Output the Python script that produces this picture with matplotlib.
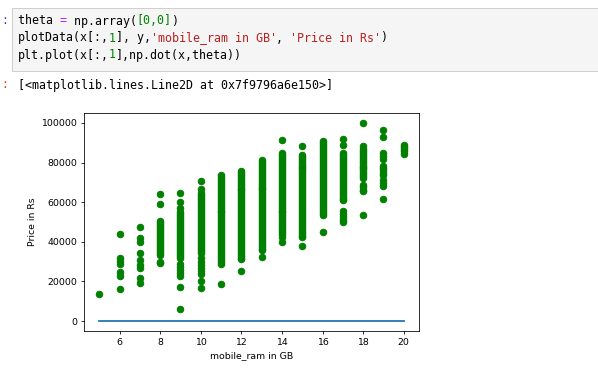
import numpy as np
import matplotlib
matplotlib.use("Agg")
import matplotlib.pyplot as plt
from matplotlib.patches import Rectangle

# ---------------- data (price in Rs for each RAM size in GB) ----------------
ram_5 = [13500]
ram_6 = [43900, 32000, 30300, 28700, 24900, 22900, 16000]
ram_7 = [47400, 42100, 40100, 34600, 30900, 28300, 27000, 21600, 19100]
ram_8 = [64100, 59000, 50600, 49600, 48600, 47600, 46600, 45600, 44600, 43600,
         42600, 41600, 40600, 39600, 38600, 37600, 36600, 35600, 34600, 33400,
         30000, 29200]
ram_9 = [64600, 60000, 57000, 55000, 54000, 53000, 52000, 51000, 50000, 49000,
         48000, 47000, 46000, 45000, 44000, 43000, 42000, 41000, 40000, 39000,
         38000, 37000, 36000, 35000, 34000, 33000, 31700, 29000, 27500, 26000,
         24500, 23000, 17000, 6000]
ram_10 = [70800, 66800, 64600, 63600, 62600, 61600, 60600, 59600, 58600, 57600,
          56600, 55600, 54600, 53600, 52600, 51600, 50600, 49600, 48600, 47600,
          46600, 45600, 44600, 43600, 42600, 41600, 40600, 39600, 38600, 37600,
          36600, 35600, 34600, 31700, 30000, 28500, 27000, 25500, 24000, 20200,
          16500]
ram_11 = [73800, 72800, 71800, 70800, 69800, 68800, 67800, 66800, 65800, 64800,
          63800, 62800, 61800, 60800, 59800, 58800, 57800, 56800, 55800, 54800,
          53800, 52800, 51800, 50800, 49800, 48800, 47800, 46800, 45800, 44800,
          43800, 42800, 41800, 40800, 39800, 38800, 37800, 36800, 35800, 34800,
          33800, 32800, 31800, 30800, 29800, 28800, 18600]
ram_12 = [75900, 74900, 73900, 72900, 71900, 70900, 69900, 68900, 67900, 66900,
          65900, 64900, 63900, 62900, 61900, 60900, 59900, 58900, 57900, 56900,
          55900, 54900, 53900, 52900, 51900, 50900, 49900, 48900, 47900, 46900,
          45900, 44900, 43900, 42900, 41900, 40900, 39900, 38900, 37900, 36900,
          35900, 34900, 33900, 32900, 31900, 31400, 25100]
ram_13 = [81400, 80400, 79400, 78400, 77400, 76400, 75400, 74400, 73400, 72400,
          71400, 70400, 69400, 68400, 67400, 66400, 65400, 64400, 63400, 62400,
          61400, 60400, 59400, 58400, 57400, 56400, 55400, 54400, 53400, 52400,
          51400, 50400, 49400, 48400, 47400, 46400, 45400, 44400, 43400, 42400,
          41400, 40400, 39400, 38400, 37400, 36400, 35900, 32200]
ram_14 = [91600, 84800, 83800, 82800, 81800, 80800, 79800, 78800, 77800, 76800,
          75800, 74800, 73800, 72800, 71800, 70800, 69800, 68800, 67800, 66800,
          65800, 64800, 63800, 62800, 61800, 60800, 59800, 58800, 57800, 56800,
          55800, 54800, 53800, 52800, 51800, 50800, 49800, 48800, 47800, 46800,
          45800, 44800, 43800, 42600, 40100]
ram_15 = [88500, 84000, 83000, 82000, 81000, 80000, 79000, 78000, 77000, 76000,
          75000, 74000, 73000, 72000, 71000, 70000, 69000, 68000, 67000, 66000,
          65000, 64000, 63000, 62000, 61000, 60000, 59000, 58000, 57000, 56000,
          55000, 54000, 53000, 52000, 51000, 50000, 49000, 48000, 47000, 46000,
          45000, 44000, 43000, 42600, 37900]
ram_16 = [90700, 89700, 88700, 87700, 86700, 85700, 84700, 83700, 82700, 81700,
          80700, 79700, 78700, 77700, 76700, 75700, 74700, 73700, 72700, 71700,
          70700, 69700, 68700, 67700, 66700, 65700, 64700, 63700, 62700, 61700,
          60700, 59700, 58700, 57700, 56700, 55700, 54700, 53600, 44900]
ram_17 = [91900, 89000, 84800, 83800, 82800, 81800, 80800, 79800, 78800, 77800,
          76800, 75800, 74800, 73800, 72800, 71800, 70800, 69800, 68800, 67800,
          66800, 65800, 64800, 63800, 62800, 61800, 60900, 55300, 54000, 52500,
          51200, 50200]
ram_18 = [100000, 88200, 87000, 86000, 85000, 84000, 83000, 82000, 81000, 80000,
          79000, 78000, 77000, 76000, 75000, 74000, 73000, 72200, 68800, 67500,
          66200, 65400, 53500]
ram_19 = [96600, 92900, 84800, 83200, 82000, 78400, 77000, 76000, 74800, 73800,
          71000, 69500, 68000, 61600]
ram_20 = [89000, 87800, 86700, 85600, 84500]

ram_levels = [5, 6, 7, 8, 9, 10, 11, 12, 13, 14, 15, 16, 17, 18, 19, 20]
price_groups = [ram_5, ram_6, ram_7, ram_8, ram_9, ram_10, ram_11, ram_12,
                ram_13, ram_14, ram_15, ram_16, ram_17, ram_18, ram_19, ram_20]

theta_vals = [0, 0]

code_lines = [
    [("theta ", "#000000"), ("=", "#AA22FF"), (" np.array(", "#000000"),
     ("[0,0]", "#008000"), (")", "#000000")],
    [("plotData(x[:,", "#000000"), ("1", "#008000"), ("], y,", "#000000"),
     ("'mobile_ram in GB'", "#BA2121"), (", ", "#000000"),
     ("'Price in Rs'", "#BA2121"), (")", "#000000")],
    [("plt.plot(x[:,", "#000000"), ("1", "#008000"),
     ("],np.dot(x,theta))", "#000000")],
]
out_text = "[<matplotlib.lines.Line2D at 0x7f9796a6e150>]"

# ---------------- figure ----------------
W, H = 598, 370
DPI = 72
fig = plt.figure(figsize=(W / DPI, H / DPI), dpi=DPI)
fig.patch.set_facecolor("white")

def fx(px):
    return px / W

def fy(py):
    return 1 - py / H

# code cell box
fig.patches.append(Rectangle((fx(11.5), fy(70.5)), fx(598) - fx(11.5) + 0.01,
                             fy(7.5) - fy(70.5), transform=fig.transFigure,
                             facecolor="#f5f5f5", edgecolor="#cfcfcf",
                             linewidth=1.0, zorder=0))

mono = "DejaVu Sans Mono"
fs_code = 11.6
adv = 0.602 * fs_code  # px per char at 72 dpi
x0 = 18
line_y = [21, 38, 55]
for segs, yy in zip(code_lines, line_y):
    col = 0
    for txt, c in segs:
        fig.text(fx(x0 + col * adv), fy(yy), txt, family=mono, fontsize=fs_code,
                 color=c, va="center", ha="left")
        col += len(txt)

# prompts
fig.text(fx(1.5), fy(21), ":", family=mono, fontsize=fs_code, color="#303F9F",
         va="center", ha="left")
fig.text(fx(1.5), fy(85), ":", family=mono, fontsize=fs_code, color="#D84315",
         va="center", ha="left")
fig.text(fx(x0), fy(85), out_text, family=mono, fontsize=fs_code,
         color="#000000", va="center", ha="left")

# ---------------- chart ----------------
ax = fig.add_axes([fx(84), fy(331), fx(419) - fx(84), fy(113) - fy(331)])

ram_all = np.concatenate([[r] * len(g) for r, g in zip(ram_levels, price_groups)])
price_all = np.concatenate([np.array(g, dtype=float) for g in price_groups])

ax.plot(ram_all, price_all, "go", markersize=6.5)
X = np.column_stack([np.ones_like(ram_all, dtype=float), ram_all])
theta = np.array(theta_vals)
ax.plot(X[:, 1], np.dot(X, theta), color="#1f77b4", linewidth=1.8)

fs = 9.4
ax.set_xlabel("mobile_ram in GB", fontsize=fs)
ax.set_ylabel("Price in Rs", fontsize=fs)
ax.tick_params(labelsize=fs, length=3.3, width=0.8)
ax.set_xticks([6, 8, 10, 12, 14, 16, 18, 20])
ax.set_yticks([0, 20000, 40000, 60000, 80000, 100000])
for s in ax.spines.values():
    s.set_linewidth(0.8)

fig.savefig("out.png", dpi=DPI)
